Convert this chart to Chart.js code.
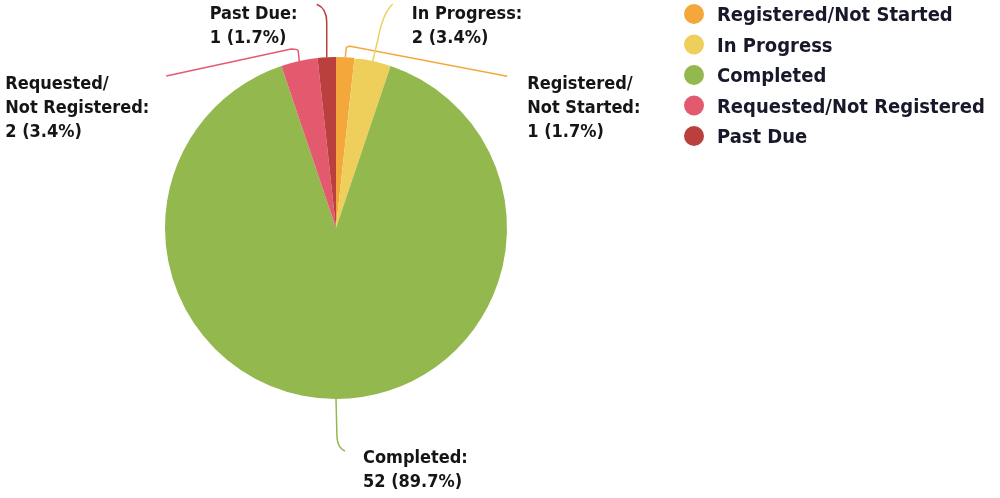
<!DOCTYPE html>
<html>
<head>
<meta charset="utf-8">
<script src="https://cdn.jsdelivr.net/npm/chart.js@4.4.1/dist/chart.umd.min.js"></script>
<style>
  html, body { margin: 0; padding: 0; background: #ffffff; }
  #wrap { width: 1000px; height: 498px; position: relative; }
</style>
</head>
<body>
<div id="wrap"><canvas id="c" width="1000" height="498"></canvas></div>
<script>
const categories = ['Registered/Not Started', 'In Progress', 'Completed', 'Requested/Not Registered', 'Past Due'];
const counts = [1, 2, 52, 2, 1];
const sliceColors = ['#F4A83C', '#EFCF5C', '#93B84E', '#E35A6E', '#B9403D'];

const FONT = '"DejaVu Sans Condensed", "DejaVu Sans", Tahoma, sans-serif';

// leader-line geometry (relative to the slice's outer mid point) and label offsets
const leaderStyles = [
  { path: [['L', 1, -9], ['Q', 1, -11, 5, -11], ['L', 162, 19]], text: [182, 32] },
  { path: [['L', 5, -21], ['Q', 10, -48, 20, -57]], text: [39, -42] },
  { path: [['L', 1, 39], ['Q', 2, 49, 9, 52]], text: [27, 64] },
  { path: [['L', -1, -10], ['Q', -1, -12, -8, -12], ['L', -133, 15]], text: [-294, 28] },
  { path: [['L', 0, -35], ['Q', 0, -49, -10, -53]], text: [-117, -38] }
];

const labelPlugin = {
  id: 'outLabels',
  afterDatasetsDraw(chart) {
    const ctx = chart.ctx;
    const meta = chart.getDatasetMeta(0);
    const data = chart.data.datasets[0].data;
    const total = data.reduce((a, b) => a + b, 0);
    ctx.save();
    meta.data.forEach((arc, i) => {
      const p = arc.getProps(['x', 'y', 'startAngle', 'endAngle', 'outerRadius'], true);
      const mid = (p.startAngle + p.endAngle) / 2;
      const sx = p.x + Math.cos(mid) * p.outerRadius;
      const sy = p.y + Math.sin(mid) * p.outerRadius;
      const st = leaderStyles[i];
      ctx.beginPath();
      ctx.moveTo(sx, sy);
      st.path.forEach(seg => {
        if (seg[0] === 'L') ctx.lineTo(sx + seg[1], sy + seg[2]);
        else ctx.quadraticCurveTo(sx + seg[1], sy + seg[2], sx + seg[3], sy + seg[4]);
      });
      ctx.strokeStyle = chart.data.datasets[0].backgroundColor[i];
      ctx.lineWidth = 1.5;
      ctx.stroke();

      const name = chart.data.labels[i];
      const slash = name.indexOf('/');
      const lines = slash >= 0 ? [name.slice(0, slash + 1), name.slice(slash + 1) + ':'] : [name + ':'];
      lines.push(data[i] + ' (' + (data[i] / total * 100).toFixed(1) + '%)');
      ctx.fillStyle = '#151515';
      ctx.font = 'bold 18px ' + FONT;
      ctx.textAlign = 'left';
      ctx.textBaseline = 'alphabetic';
      lines.forEach((ln, k) => {
        ctx.fillText(ln, sx + st.text[0], sy + st.text[1] + k * 24);
      });
    });
    ctx.restore();
  }
};

const legendPlugin = {
  id: 'sideLegend',
  afterDraw(chart) {
    const ctx = chart.ctx;
    const ds = chart.data.datasets[0];
    ctx.save();
    chart.data.labels.forEach((lab, i) => {
      const cy = 14 + i * 30.5;
      ctx.beginPath();
      ctx.arc(694, cy, 10, 0, Math.PI * 2);
      ctx.fillStyle = ds.backgroundColor[i];
      ctx.fill();
      ctx.fillStyle = '#17192a';
      ctx.font = 'bold 20px ' + FONT;
      ctx.textAlign = 'left';
      ctx.textBaseline = 'alphabetic';
      ctx.fillText(lab, 717, cy + 7);
    });
    ctx.restore();
  }
};

new Chart(document.getElementById('c'), {
  type: 'pie',
  data: {
    labels: categories,
    datasets: [{
      data: counts,
      backgroundColor: sliceColors,
      borderWidth: 0
    }]
  },
  options: {
    responsive: false,
    animation: false,
    layout: { padding: { left: 165, right: 493, top: 57, bottom: 99 } },
    plugins: {
      legend: { display: false },
      tooltip: { enabled: false }
    }
  },
  plugins: [labelPlugin, legendPlugin]
});
</script>
</body>
</html>
